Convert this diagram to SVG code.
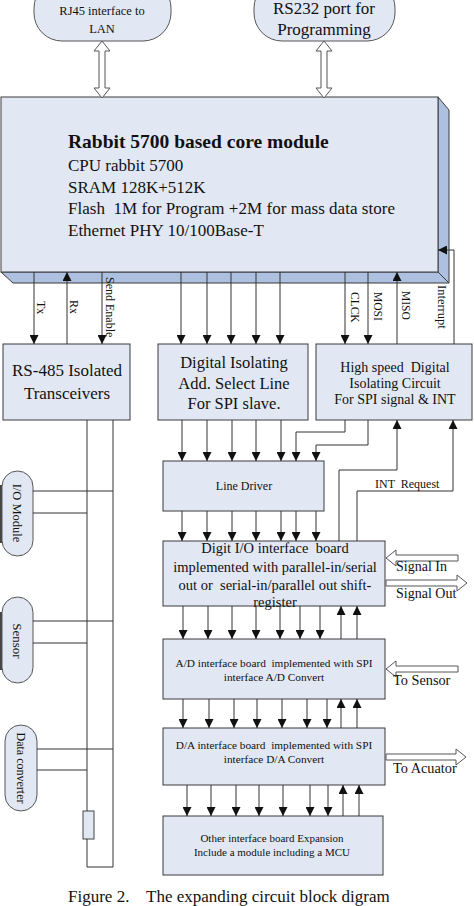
<svg xmlns="http://www.w3.org/2000/svg" width="474" height="906" viewBox="0 0 474 906">
<style>
text{font-family:"Liberation Serif","Times New Roman",serif;fill:#111}
.box{fill:#e1e8f4;stroke:#3a3a3a;stroke-width:1}
.side{fill:#aec0df;stroke:#3a3a3a;stroke-width:1}
.oval{fill:#e1e8f4;stroke:#555;stroke-width:1}
.hol{fill:#fff;stroke:#555;stroke-width:1}
.c line,.c path{stroke:#333;stroke-width:1;fill:none}
.arr{marker-end:url(#ah)}
.bus{stroke:#555;stroke-width:1.2;fill:none}
.m{text-anchor:middle}
</style>
<defs>
<marker id="ah" viewBox="0 0 10 10" refX="10" refY="5" markerWidth="9" markerHeight="9" markerUnits="userSpaceOnUse" orient="auto">
<path d="M0,0 L10,5 L0,10 z" fill="#111"/>
</marker>
</defs>
<rect width="474" height="906" fill="#fff"/>

<g id="rj45">
<rect class="oval" x="34" y="-20" width="137" height="61" rx="28"/>
<text class="m" x="102" y="15" font-size="12.5">RJ45 interface to</text>
<text class="m" x="102" y="33" font-size="12.5">LAN</text>
</g>
<g id="rs232">
<rect class="oval" x="254" y="-20" width="141" height="61" rx="28"/>
<text class="m" x="324" y="14" font-size="17">RS232 port for</text>
<text class="m" x="324" y="35" font-size="17">Programming</text>
</g>

<g id="core">
<path class="side" d="M438,97 L449,110 L449,283 L438,272 Z"/>
<path class="side" d="M1,272 L438,272 L449,283 L13,283 Z"/>
<rect class="box" x="1" y="97" width="437" height="175"/>
<text x="68" y="148" font-size="19.5" font-weight="bold">Rabbit 5700 based core module</text>
<text x="68" y="171" font-size="17">CPU rabbit 5700</text>
<text x="68" y="193" font-size="17">SRAM 128K+512K</text>
<text x="68" y="214" font-size="17" xml:space="preserve" textLength="327" lengthAdjust="spacing">Flash  1M for Program +2M for mass data store</text>
<text x="68" y="236" font-size="17">Ethernet PHY 10/100Base-T</text>
</g>

<g id="rs485">
<rect class="box" x="3" y="344" width="127" height="76"/>
<text class="m" x="67" y="376" font-size="17">RS-485 Isolated</text>
<text class="m" x="67" y="399" font-size="17">Transceivers</text>
</g>

<g id="digiso">
<rect class="box" x="158" y="344" width="150" height="76"/>
<text class="m" x="234" y="368" font-size="16.5">Digital Isolating</text>
<text class="m" x="234" y="389" font-size="16.5">Add. Select Line</text>
<text class="m" x="234" y="409" font-size="16.5">For SPI slave.</text>
</g>

<g id="hsiso">
<rect class="box" x="316" y="344" width="156" height="76"/>
<text class="m" x="395" y="372" font-size="14" xml:space="preserve">High speed  Digital</text>
<text class="m" x="395" y="388" font-size="14">Isolating Circuit</text>
<text class="m" x="395" y="404" font-size="14">For SPI signal &amp; INT</text>
</g>

<g id="linedriver">
<rect class="box" x="163" y="461" width="161" height="50"/>
<text class="m" x="244" y="490" font-size="12">Line Driver</text>
</g>

<g id="digio">
<rect class="box" x="163" y="541" width="222" height="65"/>
<text class="m" x="275" y="553" font-size="14.5" xml:space="preserve">Digit I/O interface  board</text>
<text class="m" x="275" y="572" font-size="14.5">implemented with parallel-in/serial</text>
<text class="m" x="275" y="590" font-size="14.5" xml:space="preserve">out or  serial-in/parallel out shift-</text>
<text class="m" x="275" y="607" font-size="14.5">register</text>
</g>

<g id="ad">
<rect class="box" x="163" y="639" width="222" height="60"/>
<text class="m" x="274" y="667" font-size="11.3" xml:space="preserve">A/D interface board  implemented with SPI</text>
<text class="m" x="274" y="681" font-size="11.3">interface A/D Convert</text>
</g>

<g id="da">
<rect class="box" x="163" y="728" width="222" height="57"/>
<text class="m" x="274" y="749" font-size="11.3" xml:space="preserve">D/A interface board  implemented with SPI</text>
<text class="m" x="274" y="763" font-size="11.3">interface D/A Convert</text>
</g>

<g id="other">
<rect class="box" x="163" y="816" width="220" height="59"/>
<text class="m" x="272" y="842" font-size="11">Other interface board Expansion</text>
<text class="m" x="272" y="856" font-size="11">Include a module including a MCU</text>
</g>

<g id="iomodule">
<rect x="0" y="485" width="3" height="58" fill="#444"/>
<rect class="oval" x="2" y="471" width="31" height="85" rx="15.5"/>
<text class="m" transform="translate(13,513) rotate(90)" font-size="12.5">I/O Module</text>
</g>
<g id="sensor">
<rect x="0" y="612" width="3" height="58" fill="#444"/>
<rect class="oval" x="2" y="597" width="31" height="86" rx="15.5"/>
<text class="m" transform="translate(13,641) rotate(90)" font-size="13">Sensor</text>
</g>
<g id="dataconv">
<rect class="oval" x="5" y="725" width="32" height="86" rx="16"/>
<text class="m" transform="translate(17,768) rotate(90)" font-size="12">Data converter</text>
</g>

<g id="resistor">
<rect x="83" y="811" width="11" height="28" fill="#e1e8f4" stroke="#444" stroke-width="1"/>
</g>

<g id="connectors" class="c">
<!-- hollow double arrows -->
<path class="hol" d="M102,41 L110,51 L105,51 L105,88 L110,88 L102,98 L94,88 L99,88 L99,51 L94,51 Z" style="fill:#fff;stroke:#555"/>
<path class="hol" d="M324,41 L332,51 L327,51 L327,88 L332,88 L324,98 L316,88 L321,88 L321,51 L316,51 Z" style="fill:#fff;stroke:#555"/>
<!-- signal arrows -->
<path class="hol" d="M386,558 L396,550 L396,555 L458,555 L458,561 L396,561 L396,566 Z" style="fill:#fff;stroke:#555"/>
<path class="hol" d="M467,583 L457,575 L457,580 L386,580 L386,586 L457,586 L457,591 Z" style="fill:#fff;stroke:#555"/>
<path class="hol" d="M386,669 L396,661 L396,666 L458,666 L458,672 L396,672 L396,677 Z" style="fill:#fff;stroke:#555"/>
<path class="hol" d="M466,757 L456,749 L456,754 L386,754 L386,760 L456,760 L456,765 Z" style="fill:#fff;stroke:#555"/>

<!-- core to RS-485 -->
<line class="arr" x1="34" y1="272" x2="34" y2="344"/>
<line class="arr" x1="67" y1="344" x2="67" y2="272"/>
<line class="arr" x1="102" y1="272" x2="102" y2="344"/>
<!-- core to digital isolating -->
<line class="arr" x1="181" y1="272" x2="181" y2="344"/>
<line class="arr" x1="207" y1="272" x2="207" y2="344"/>
<line class="arr" x1="231" y1="272" x2="231" y2="344"/>
<line class="arr" x1="256" y1="272" x2="256" y2="344"/>
<line class="arr" x1="280" y1="272" x2="280" y2="344"/>
<!-- core to high speed -->
<line class="arr" x1="345" y1="272" x2="345" y2="344"/>
<line class="arr" x1="368" y1="272" x2="368" y2="344"/>
<line class="arr" x1="397" y1="344" x2="397" y2="272"/>
<path class="arr" d="M454,344 V250 H438"/>

<!-- digital isolating to line driver -->
<line class="arr" x1="182" y1="420" x2="182" y2="461"/>
<line class="arr" x1="207" y1="420" x2="207" y2="461"/>
<line class="arr" x1="232" y1="420" x2="232" y2="461"/>
<line class="arr" x1="256" y1="420" x2="256" y2="461"/>
<line class="arr" x1="281" y1="420" x2="281" y2="461"/>
<path class="arr" d="M345,420 V432 H296 V461"/>
<path class="arr" d="M368,420 V445 H316 V461"/>
<!-- digit io to high speed -->
<path class="arr" d="M339,541 V470 H397 V420"/>
<path class="arr" d="M357,541 V491 H453 V420"/>

<!-- line driver to digit io -->
<line class="arr" x1="182" y1="511" x2="182" y2="541"/>
<line class="arr" x1="207" y1="511" x2="207" y2="541"/>
<line class="arr" x1="232" y1="511" x2="232" y2="541"/>
<line class="arr" x1="256" y1="511" x2="256" y2="541"/>
<line class="arr" x1="281" y1="511" x2="281" y2="541"/>
<line class="arr" x1="296" y1="511" x2="296" y2="541"/>
<line class="arr" x1="316" y1="511" x2="316" y2="541"/>

<!-- digit io to A/D -->
<line class="arr" x1="183" y1="606" x2="183" y2="639"/>
<line class="arr" x1="208" y1="606" x2="208" y2="639"/>
<line class="arr" x1="232" y1="606" x2="232" y2="639"/>
<line class="arr" x1="256" y1="606" x2="256" y2="639"/>
<line class="arr" x1="280" y1="606" x2="280" y2="639"/>
<line class="arr" x1="300" y1="606" x2="300" y2="639"/>
<line class="arr" x1="320" y1="606" x2="320" y2="639"/>
<line class="arr" x1="341" y1="639" x2="341" y2="606"/>
<line class="arr" x1="357" y1="639" x2="357" y2="606"/>

<!-- A/D to D/A -->
<line class="arr" x1="183" y1="699" x2="183" y2="728"/>
<line class="arr" x1="209" y1="699" x2="209" y2="728"/>
<line class="arr" x1="234" y1="699" x2="234" y2="728"/>
<line class="arr" x1="257" y1="699" x2="257" y2="728"/>
<line class="arr" x1="282" y1="699" x2="282" y2="728"/>
<line class="arr" x1="307" y1="699" x2="307" y2="728"/>
<line class="arr" x1="327" y1="699" x2="327" y2="728"/>
<line class="arr" x1="341" y1="728" x2="341" y2="699"/>
<line class="arr" x1="357" y1="728" x2="357" y2="699"/>

<!-- D/A to other -->
<line class="arr" x1="187" y1="785" x2="187" y2="816"/>
<line class="arr" x1="211" y1="785" x2="211" y2="816"/>
<line class="arr" x1="236" y1="785" x2="236" y2="816"/>
<line class="arr" x1="259" y1="785" x2="259" y2="816"/>
<line class="arr" x1="283" y1="785" x2="283" y2="816"/>
<line class="arr" x1="310" y1="785" x2="310" y2="816"/>
<line class="arr" x1="328" y1="785" x2="328" y2="816"/>
<line class="arr" x1="343" y1="816" x2="343" y2="785"/>
<line class="arr" x1="359" y1="816" x2="359" y2="785"/>

<!-- RS-485 bus -->
<path class="bus" d="M87,420 V811 M87,839 V867 H113 V420"/>
<path class="bus" d="M33,491 H113 M33,513 H87"/>
<path class="bus" d="M33,621 H113 M33,643 H87"/>
<path class="bus" d="M37,749 H113 M37,770 H87"/>
</g>

<g id="labels">
<text transform="translate(37,301) rotate(90)" font-size="12">Tx</text>
<text transform="translate(70,300) rotate(90)" font-size="12">Rx</text>
<text transform="translate(106,277) rotate(90)" font-size="12">Send Enable</text>
<text transform="translate(351,292) rotate(90)" font-size="11.5">CLCK</text>
<text transform="translate(374,292) rotate(90)" font-size="11.5">MOSI</text>
<text transform="translate(402,291) rotate(90)" font-size="11.5">MISO</text>
<text transform="translate(438,285) rotate(90)" font-size="12.5">Interrupt</text>
<text x="375" y="488" font-size="12" xml:space="preserve">INT  Request</text>
<text x="396" y="571" font-size="14">Signal In</text>
<text x="396" y="598" font-size="14">Signal Out</text>
<text x="393" y="685" font-size="14.3">To Sensor</text>
<text x="393" y="773" font-size="14.3">To Acuator</text>
</g>

<g id="caption">
<text x="68" y="902" font-size="17" xml:space="preserve">Figure 2.    The expanding circuit block digram</text>
</g>
</svg>
